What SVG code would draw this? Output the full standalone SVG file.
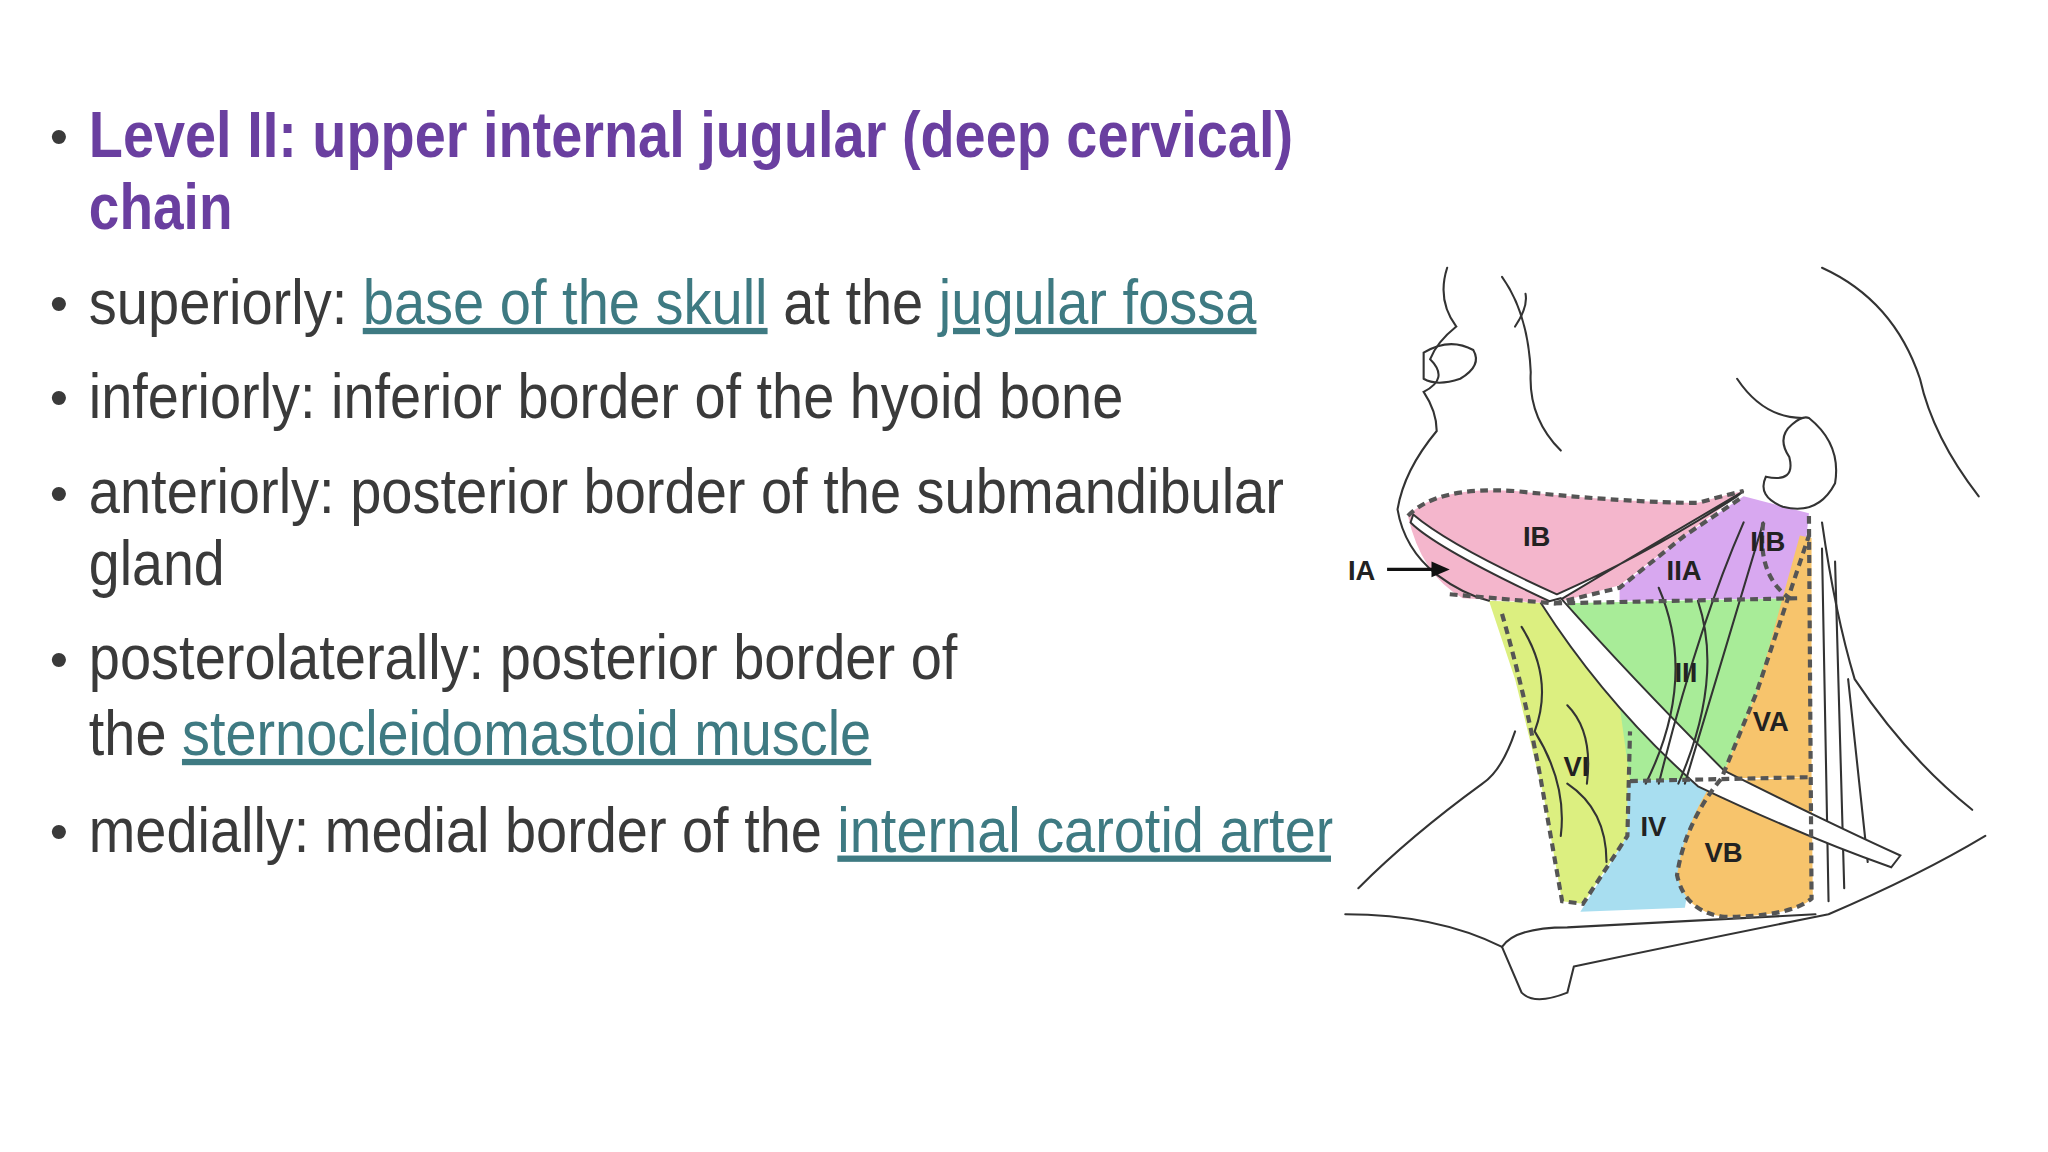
<svg xmlns="http://www.w3.org/2000/svg" width="2048" height="1152" viewBox="0 0 2048 1152">
<defs>
<style>
.t{font-family:"Liberation Sans Narrow","Liberation Sans",Arial,sans-serif;font-size:48px;fill:#3a3a3a}
.h{font-weight:bold;fill:#6a3fa0;font-size:49px}
.l{fill:#3e7a82;text-decoration:underline}
.b{font-family:"Liberation Sans",Arial,sans-serif;font-size:40px;fill:#3a3a3a}
.ln{fill:none;stroke:#333;stroke-width:1.6;stroke-linecap:round}
.ds{fill:none;stroke:#555;stroke-width:3.2;stroke-dasharray:6 4}
.lb{font-family:"Liberation Sans",Arial,sans-serif;font-weight:bold;font-size:21px;fill:#222}
</style>
<clipPath id="c"><rect x="0" y="0" width="1020" height="882"/></clipPath>
</defs>
<rect width="2048" height="1152" fill="#fff"/>
<g transform="scale(1.3061)">
<g id="text" clip-path="url(#c)">
<text class="b" x="38" y="118">•</text>
<text class="t h" x="68" y="120" textLength="922" lengthAdjust="spacingAndGlyphs">Level II: upper internal jugular (deep cervical)</text>
<text class="t h" x="68" y="175" textLength="110" lengthAdjust="spacingAndGlyphs">chain</text>
<text class="b" x="38" y="246">•</text>
<text class="t" x="68" y="248" textLength="894" lengthAdjust="spacingAndGlyphs">superiorly: <tspan class="l">base of the skull</tspan> at the <tspan class="l">jugular fossa</tspan></text>
<text class="b" x="38" y="318">•</text>
<text class="t" x="68" y="320" textLength="792" lengthAdjust="spacingAndGlyphs">inferiorly: inferior border of the hyoid bone</text>
<text class="b" x="38" y="391">•</text>
<text class="t" x="68" y="393" textLength="915" lengthAdjust="spacingAndGlyphs">anteriorly: posterior border of the submandibular</text>
<text class="t" x="68" y="448" textLength="104" lengthAdjust="spacingAndGlyphs">gland</text>
<text class="b" x="38" y="518">•</text>
<text class="t" x="68" y="520" textLength="665" lengthAdjust="spacingAndGlyphs">posterolaterally: posterior border of</text>
<text class="t" x="68" y="578" textLength="599" lengthAdjust="spacingAndGlyphs">the <tspan class="l">sternocleidomastoid muscle</tspan></text>
<text class="b" x="38" y="650">•</text>
<text class="t" x="68" y="652" textLength="975" lengthAdjust="spacingAndGlyphs">medially: medial border of the <tspan class="l">internal carotid artery</tspan></text>
</g>
<g id="illustration">
<g id="regions" stroke="none">
<path id="IB" fill="#f4b6cc" d="M1078,395 Q1100,372 1160,376 Q1250,385 1300,385 Q1325,378 1335,376 L1290,410 L1240,448 L1190,462 L1120,458 Q1088,440 1078,395Z"/>
<path id="II" fill="#d8a8f0" d="M1240,450 L1290,410 L1335,380 L1385,393 L1378,458 L1240,460Z"/>
<path id="III" fill="#a8ec98" d="M1190,462 L1378,458 L1345,530 L1318,596 L1245,598 L1238,540Z"/>
<path id="VI" fill="#dcef80" d="M1140,460 L1190,462 L1240,540 L1248,598 L1246,640 L1212,692 L1196,690 L1182,610 L1160,520Z"/>
<path id="IV" fill="#a8def0" d="M1246,598 L1318,596 L1300,635 L1290,695 L1210,698 L1246,640Z"/>
<path id="VA" fill="#f7c46c" d="M1378,410 L1387,412 L1387,595 L1318,596 L1345,530Z"/>
<path id="VB" fill="#f7c46c" d="M1312,598 L1387,595 L1388,688 Q1370,702 1320,702 Q1290,698 1284,670 Q1290,630 1312,598Z"/>
</g>
<g id="lines">
<path class="ln" d="M1108,205 Q1100,230 1115,250 Q1100,262 1095,275 Q1110,290 1090,300 Q1100,315 1100,330 Q1075,360 1070,390 Q1075,420 1100,440 Q1120,455 1140,460"/>
<path class="ln" d="M1090,270 Q1110,258 1128,268 Q1135,280 1118,290 Q1100,296 1090,290Z"/>
<path class="ln" d="M1150,212 Q1170,240 1172,285 Q1170,320 1195,345"/>
<path class="ln" d="M1160,250 Q1170,235 1168,225"/>
<path class="ln" d="M1395,205 Q1450,230 1470,290 Q1480,335 1515,380"/>
<path class="ln" d="M1385,320 Q1410,340 1405,370 Q1392,395 1365,388 Q1345,380 1352,365 Q1375,370 1370,350 Q1360,335 1372,325 Q1380,318 1385,320Z"/>
<path class="ln" d="M1330,290 Q1350,320 1380,320"/>
<path class="ln" d="M1395,400 Q1405,470 1420,520 Q1460,580 1510,620"/>
<path class="ln" d="M1040,680 Q1080,640 1135,600 Q1150,590 1160,560"/>
<path class="ln" d="M1030,700 Q1100,700 1150,725 L1165,760 Q1175,770 1200,760 L1205,740 Q1300,720 1400,700 Q1470,670 1520,640"/>
<path class="ln" d="M1150,725 Q1160,710 1200,710 L1390,700"/>
<path class="ln" d="M1395,420 L1400,690 M1405,430 L1412,680 M1415,520 L1430,660"/>
<path d="M1080,400 Q1100,420 1190,462 Q1260,420 1335,376 L1330,380 Q1260,425 1192,455 Q1110,418 1082,394Z" fill="#fff" stroke="#333" stroke-width="1.5"/>
<path d="M1180,462 L1195,458 Q1250,520 1320,590 Q1400,630 1455,655 L1448,664 Q1380,640 1300,602 Q1230,540 1180,462Z" fill="#fff" stroke="#333" stroke-width="1.5"/>
<path class="ln" d="M1270,450 Q1300,520 1260,600 M1300,460 Q1320,520 1285,600 M1335,400 Q1300,480 1270,600 M1350,400 Q1320,500 1290,600" stroke-width="1"/>
<path class="ln" d="M1165,480 Q1190,520 1175,560 Q1200,600 1195,640 M1200,540 Q1220,560 1215,600 M1200,600 Q1230,620 1230,660" stroke-width="1"/>
</g>
<g id="borders">
<path class="ds" d="M1078,395 Q1100,372 1160,376 Q1250,385 1300,385 Q1325,378 1335,376"/>
<path class="ds" d="M1110,455 L1190,462 L1240,450 L1290,410 L1335,380"/>
<path class="ds" d="M1190,462 L1378,458"/>
<path class="ds" d="M1385,395 L1387,688 Q1370,702 1320,702 Q1290,698 1284,670 Q1290,630 1318,596 L1345,530 L1385,410"/>
<path class="ds" d="M1248,598 L1387,595"/>
<path class="ds" d="M1150,470 Q1170,540 1182,610 L1196,690 L1212,692 L1246,640 L1248,560"/>
<path class="ds" d="M1350,400 Q1345,440 1370,458" stroke-width="2"/>
</g>
<g id="labels">
<text class="lb" x="1166" y="418">IB</text>
<text class="lb" x="1276" y="444">IIA</text>
<text class="lb" x="1340" y="422">IIB</text>
<text class="lb" x="1282" y="522">III</text>
<text class="lb" x="1342" y="560">VA</text>
<text class="lb" x="1197" y="594">VI</text>
<text class="lb" x="1256" y="640">IV</text>
<text class="lb" x="1305" y="660">VB</text>
<text class="lb" x="1032" y="444">IA</text>
<path d="M1062,436 L1098,436" stroke="#111" stroke-width="2.5"/>
<path d="M1110,436 L1096,430 L1096,442Z" fill="#111"/>
</g>
</g>
</g>
</svg>
